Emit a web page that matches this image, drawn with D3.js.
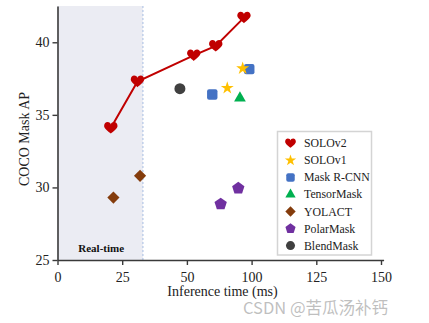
<!DOCTYPE html>
<html><head><meta charset="utf-8">
<script src="https://cdn.jsdelivr.net/npm/d3@7"></script>
<style>html,body{margin:0;padding:0;background:#fff;}svg{display:block;}</style>
</head><body><svg id="chart" width="429" height="323"></svg>
<script>
// ---- data ----
const methods = ["SOLOv2","SOLOv1","Mask R-CNN","TensorMask","YOLACT","PolarMask","BlendMask"];
const solov2X = [20.6, 30.9, 55.3, 72.3, 94.1];
const solov2Y = [34.1, 37.3, 39.1, 39.75, 41.7];
const solov1X = [93.1, 81.2];
const solov1Y = [38.2, 36.85];
const maskrcnnX = [98.2, 69.6];
const maskrcnnY = [38.15, 36.4];
const tensormaskX = [91.0];
const tensormaskY = [36.15];
const yolactX = [21.6, 31.9];
const yolactY = [29.3, 30.8];
const polarmaskX = [76.1, 89.7];
const polarmaskY = [28.85, 29.95];
const blendmaskX = [47.3];
const blendmaskY = [36.8];
const xTicks = [0, 25, 50, 100, 125, 150];
const yTicks = [25, 30, 35, 40];
const realTimeLimit = 33;

// ---- layout ----
const W = 429, H = 323;
const x0 = 57.5, step = 64.7, yTop = 6, yBot = 260;
const serif = "'Liberation Serif','Times New Roman',serif";
const svg = d3.select("#chart");

const x = d3.scaleLinear()
  .domain([0, 50, 100, 151])
  .range([x0, x0 + 2*step, x0 + 3*step, x0 + 5*step + step/25]);
const y = d3.scaleLinear().domain([25, 42.5]).range([yBot, yTop]);

// custom symbols
const symbolHeart = { draw(c, size) {
  const s = Math.sqrt(size) / 2;
  c.moveTo(0, 0.85*s);
  c.bezierCurveTo(-0.35*s, 0.5*s, -1.0*s, 0.1*s, -1.0*s, -0.3*s);
  c.bezierCurveTo(-1.0*s, -0.68*s, -0.75*s, -0.88*s, -0.5*s, -0.88*s);
  c.bezierCurveTo(-0.22*s, -0.88*s, -0.02*s, -0.7*s, 0, -0.5*s);
  c.bezierCurveTo(0.02*s, -0.7*s, 0.22*s, -0.88*s, 0.5*s, -0.88*s);
  c.bezierCurveTo(0.75*s, -0.88*s, 1.0*s, -0.68*s, 1.0*s, -0.3*s);
  c.bezierCurveTo(1.0*s, 0.1*s, 0.35*s, 0.5*s, 0, 0.85*s);
  c.closePath();
}};
const symbolPentagon = { draw(c, size) {
  const r = Math.sqrt(size / 2.378);
  for (let i = 0; i < 5; i++) {
    const a = -Math.PI/2 + i * 2*Math.PI/5;
    if (i === 0) c.moveTo(r*Math.cos(a), r*Math.sin(a)); else c.lineTo(r*Math.cos(a), r*Math.sin(a));
  }
  c.closePath();
}};
const symbolRoundSquare = { draw(c, size) {
  const h = Math.sqrt(size)/2, rr = 2;
  c.moveTo(-h+rr, -h); c.lineTo(h-rr, -h); c.arcTo(h, -h, h, -h+rr, rr);
  c.lineTo(h, h-rr); c.arcTo(h, h, h-rr, h, rr);
  c.lineTo(-h+rr, h); c.arcTo(-h, h, -h, h-rr, rr);
  c.lineTo(-h, -h+rr); c.arcTo(-h, -h, -h+rr, -h, rr); c.closePath();
}};
const symbolDiamond45 = { draw(c, size) {
  const d = Math.sqrt(size) / Math.SQRT2;
  c.moveTo(0, -d); c.lineTo(d, 0); c.lineTo(0, d); c.lineTo(-d, 0); c.closePath();
}};

const styles = {
  "SOLOv2":     {type: symbolHeart, size: 180, leg: 115, color: "#c00000"},
  "SOLOv1":     {type: d3.symbolStar, size: 52, leg: 40, color: "#ffc000"},
  "Mask R-CNN": {type: symbolRoundSquare, size: 108, leg: 72, color: "#4472c4"},
  "TensorMask": {type: d3.symbolTriangle, size: 60, leg: 46, color: "#00b050"},
  "YOLACT":     {type: symbolDiamond45, size: 74, leg: 54, color: "#843c0c"},
  "PolarMask":  {type: symbolPentagon, size: 100, leg: 68, color: "#7030a0"},
  "BlendMask":  {type: d3.symbolCircle, size: 95, leg: 64, color: "#404040"}
};
const seriesData = {
  "SOLOv2": [solov2X, solov2Y], "SOLOv1": [solov1X, solov1Y],
  "Mask R-CNN": [maskrcnnX, maskrcnnY], "TensorMask": [tensormaskX, tensormaskY],
  "YOLACT": [yolactX, yolactY], "PolarMask": [polarmaskX, polarmaskY],
  "BlendMask": [blendmaskX, blendmaskY]
};

// real-time region
svg.append("rect")
  .attr("x", x(0)).attr("y", yTop)
  .attr("width", x(realTimeLimit) - x(0)).attr("height", yBot - yTop)
  .attr("fill", "#ebecf3");
svg.append("line")
  .attr("x1", x(realTimeLimit)).attr("x2", x(realTimeLimit))
  .attr("y1", yTop).attr("y2", yBot)
  .attr("stroke", "#b4c6e6").attr("stroke-width", 1.2).attr("stroke-dasharray", "2,2");
svg.append("text")
  .attr("x", (x(0) + x(realTimeLimit)) / 2 + 1).attr("y", 252)
  .attr("text-anchor", "middle").attr("font-family", serif)
  .attr("font-size", 11).attr("font-weight", "bold").attr("fill", "#111")
  .text("Real-time");

// axes
const axisColor = "#3a3a3a";
const gx = svg.append("g").attr("transform", `translate(0,${yBot})`)
  .call(d3.axisBottom(x).tickValues(xTicks).tickFormat(d3.format("d")).tickSize(5).tickSizeOuter(0).tickPadding(7));
const gy = svg.append("g").attr("transform", `translate(${x0},0)`)
  .call(d3.axisLeft(y).tickValues(yTicks).tickSize(5).tickSizeOuter(0).tickPadding(3));
[gx, gy].forEach(g => {
  g.select(".domain").attr("stroke", axisColor).attr("stroke-width", 1.6);
  g.selectAll(".tick line").attr("stroke", axisColor).attr("stroke-width", 1.4);
  g.selectAll(".tick text").attr("font-family", serif).attr("font-size", 14).attr("fill", "#222");
});

svg.append("text")
  .attr("x", (x0 + x(151)) / 2 + 2).attr("y", 296)
  .attr("text-anchor", "middle").attr("font-family", serif).attr("font-size", 14).attr("fill", "#222")
  .text("Inference time (ms)");
svg.append("text")
  .attr("transform", `translate(29,${(yTop + yBot) / 2 + 6}) rotate(-90)`)
  .attr("text-anchor", "middle").attr("font-family", serif).attr("font-size", 14).attr("fill", "#222")
  .text("COCO Mask AP");

// marks
const drawOrder = ["BlendMask","PolarMask","YOLACT","TensorMask","Mask R-CNN","SOLOv1"];
drawOrder.forEach(m => {
  const [xs, ys] = seriesData[m], st = styles[m];
  svg.append("g").selectAll("path").data(xs.map((v, i) => [v, ys[i]])).join("path")
    .attr("transform", d => `translate(${x(d[0])},${y(d[1])})`)
    .attr("d", d3.symbol().type(st.type).size(st.size)())
    .attr("fill", st.color);
});
const solo2pts = solov2X.map((v, i) => [v, solov2Y[i]]);
svg.append("path").datum(solo2pts)
  .attr("d", d3.line().x(d => x(d[0])).y(d => y(d[1])))
  .attr("fill", "none").attr("stroke", "#c00000").attr("stroke-width", 2);
svg.append("g").selectAll("path").data(solo2pts).join("path")
  .attr("transform", d => `translate(${x(d[0])},${y(d[1])})`)
  .attr("d", d3.symbol().type(symbolHeart).size(styles["SOLOv2"].size)())
  .attr("fill", "#c00000");

// legend
const lg = svg.append("g");
lg.append("rect").attr("x", 277.5).attr("y", 131.5).attr("width", 94).attr("height", 123.5)
  .attr("fill", "#fff").attr("stroke", "#d4d4d4").attr("stroke-width", 1.5);
methods.forEach((m, i) => {
  const cy = 143.3 + i * 17.05, st = styles[m];
  lg.append("path").attr("transform", `translate(290.5,${cy})`)
    .attr("d", d3.symbol().type(st.type).size(st.leg)()).attr("fill", st.color);
  lg.append("text").attr("x", 304).attr("y", cy + 4)
    .attr("font-family", serif).attr("font-size", 11.8).attr("fill", "#222").text(m);
});

// watermark
svg.append("text").attr("x", 243).attr("y", 314)
  .attr("font-family", "'Noto Sans CJK SC','Noto Sans',sans-serif").attr("font-size", 16.5)
  .attr("fill", "#b4b4b4").attr("fill-opacity", 0.85)
  .attr("stroke", "#fff").attr("stroke-width", 0.6).attr("paint-order", "stroke")
  .text("CSDN @苦瓜汤补钙");
</script></body></html>
